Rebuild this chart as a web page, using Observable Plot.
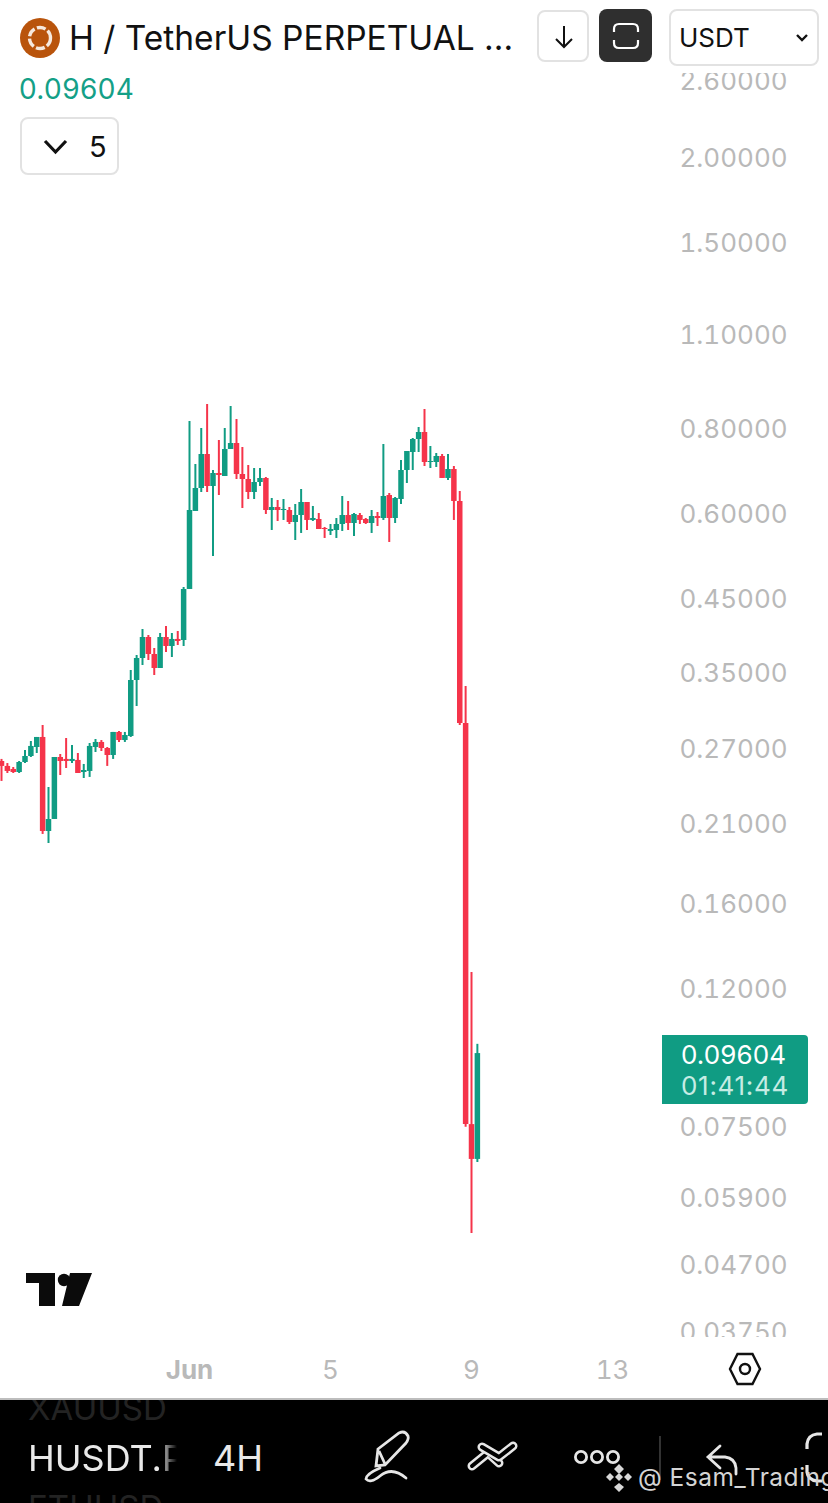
<!doctype html>
<html><head><meta charset="utf-8">
<script src="https://cdn.jsdelivr.net/npm/d3@7"></script>
<script src="https://cdn.jsdelivr.net/npm/@observablehq/plot@0.6"></script>
<style>
html,body{margin:0;padding:0;background:#fff}
#wrap{position:relative;width:828px;height:1503px;overflow:hidden;font-family:Inter,Roboto,sans-serif;background:#fff}
#wrap>*{position:absolute}
.box{box-sizing:border-box;border:2px solid #e2e2e2;border-radius:8px;background:#fff}
.t{white-space:nowrap;line-height:1}
</style></head><body>
<div id="wrap"></div>
<script>
const opens=[.2584,.2541,.2515,.2489,.2575,.2628,.2709,.2803,.2038,.2123,.2619,.2602,.2584,.2593,.2489,
.2498,.2709,.2756,.2700,.2637,.2851,.2774,.2812,.3400,.3663,.3933,.3713,.3541,.3933,.3815,
.3907,.3893,.4628,.6028,.6516,.7312,.6560,.6856,.6786,.7437,.7589,.6833,.6718,.6428,.6650,
.6741,.6048,.6110,.6048,.6048,.5807,.5946,.6214,.5847,.5866,.5690,.5633,.5652,.5768,.5946,
.5787,.5946,.5866,.5787,.5926,.5886,.6363,.5886,.6278,.6926,.7361,.7693,.7877,.7116,.7116,
.7262,.6741,.6949,.6235,.2939,.0755,.0671];
const highs=[.2602,.2566,.2532,.2584,.2682,.2765,.2803,.2919,.2366,.2619,.2646,.2793,.2728,.2655,.2558,
.2746,.2784,.2774,.2709,.2851,.2860,.2851,.3517,.3700,.4041,.3960,.3789,.3987,.4083,.3987,
.4014,.4659,.8177,.7068,.7985,.8661,.6926,.7667,.7985,.8603,.8232,.7487,.7044,.6973,.6973,
.6763,.6299,.6256,.6278,.6110,.6172,.6494,.6214,.6131,.5987,.5710,.5768,.5886,.6342,.6235,
.5987,.5987,.5886,.6048,.6007,.7564,.6407,.6320,.7164,.7386,.7719,.8012,.8516,.7513,.7336,
.7312,.7312,.7020,.6450,.3332,.1264,.0991];
const lows=[.2415,.2481,.2481,.2481,.2566,.2619,.2655,.2018,.1957,.2123,.2464,.2523,.2566,.2481,.2439,
.2448,.2664,.2673,.2541,.2602,.2756,.2756,.2803,.3113,.3577,.3638,.3458,.3541,.3738,.3675,
.3828,.3815,.4628,.6028,.6428,.6428,.5175,.6363,.6786,.7437,.6718,.6089,.6278,.6278,.6560,
.5967,.5652,.5827,.5847,.5768,.5463,.5595,.5652,.5827,.5671,.5501,.5557,.5501,.5633,.5652,
.5538,.5768,.5768,.5595,.5729,.5847,.5427,.5787,.6172,.6627,.6926,.7361,.7020,.6973,.6997,
.6741,.6695,.5847,.2919,.0748,.0522,.0664];
const closes=[.2541,.2498,.2489,.2575,.2628,.2719,.2803,.2038,.2123,.2619,.2584,.2584,.2602,.2481,.2506,
.2719,.2756,.2700,.2637,.2851,.2774,.2822,.3400,.3663,.3933,.3713,.3541,.3933,.3815,.3907,
.3880,.4628,.6048,.6516,.7312,.6560,.6856,.6809,.7437,.7589,.6833,.6718,.6428,.6650,.6741,
.6048,.6110,.6048,.6069,.5807,.5946,.6214,.5847,.5886,.5671,.5671,.5671,.5768,.5946,.5787,
.5967,.5847,.5787,.5926,.5886,.6342,.5886,.6299,.6926,.7386,.7693,.7877,.7116,.7140,.7262,
.6741,.6949,.6235,.2939,.0755,.0671,.09604];
const firstCandle=new Date(Date.UTC(2025,4,26,16));
const candleHours=4;
const priceTicks=[2.6,2,1.5,1.1,.8,.6,.45,.35,.27,.21,.16,.12,.075,.059,.047,.0375];
const dateTicks=[new Date(Date.UTC(2025,5,5)),new Date(Date.UTC(2025,5,9)),new Date(Date.UTC(2025,5,13))];
const monthTick=[new Date(Date.UTC(2025,5,1))];
const dateLabels=["5","9","13"];
const lastPrice="0.09604",countdown="01:41:44";

const candles=opens.map((o,i)=>({date:d3.utcHour.offset(firstCandle,i*candleHours),o,h:highs[i],l:lows[i],c:closes[i],dir:closes[i]>o?"up":"down"}));
const chartFont="Inter, Roboto, sans-serif", grey="#b9b9b9";
const chartTop=73;
const chart=Plot.plot({
  width:828,height:1326,marginLeft:0,marginRight:147,marginTop:0,marginBottom:41,
  style:{fontFamily:chartFont,overflow:"hidden",background:"transparent"},
  x:{type:"utc",domain:[monthTick[0],dateTicks[2]],range:[189,612]},
  y:{type:"log",domain:[2,.047],range:[157-chartTop,1264-chartTop]},
  color:{domain:["up","down"],range:["#109c83","#f5344a"]},
  marks:[
    Plot.ruleX(candles,{x:"date",y1:"l",y2:"h",stroke:"dir",strokeWidth:2}),
    Plot.ruleX(candles,{x:"date",y1:"o",y2:"c",stroke:"dir",strokeWidth:5.5}),
    Plot.axisY(priceTicks,{anchor:"right",tickSize:0,tickPadding:0,label:null,fontSize:26,fill:grey,dx:-2,dy:1.5,tickFormat:d=>d.toFixed(5)}),
    Plot.axisX(monthTick,{anchor:"bottom",tickSize:0,tickPadding:2,label:null,fontSize:26,fontWeight:"bold",fill:grey,tickFormat:()=>"Jun"}),
    Plot.axisX(dateTicks,{anchor:"bottom",tickSize:0,tickPadding:2,label:null,fontSize:26,fill:grey,tickFormat:(d,i)=>dateLabels[i]})
  ]
});
const wrap=document.getElementById("wrap");
chart.style.position="absolute";chart.style.left="0";chart.style.top=chartTop+"px";
wrap.appendChild(chart);
wrap.insertAdjacentHTML("beforeend",`
<div style="left:0;top:1337px;width:828px;height:14px;background:#fff"></div>

<svg style="left:20px;top:18px" width="40" height="40" viewBox="0 0 40 40">
  <circle cx="20" cy="20" r="20" fill="#b9540c"/>
  <circle cx="20" cy="20" r="10.5" fill="none" stroke="#f6e9de" stroke-width="3.4" stroke-dasharray="9 2.5"/>
</svg>
<div class="t" style="left:69px;top:22px;font-size:33.5px;color:#111;font-family:Inter,sans-serif">H / TetherUS PERPETUAL ...</div>
<div class="t" style="left:19px;top:75px;font-size:28px;color:#14a087;letter-spacing:.4px">${lastPrice}</div>

<div class="box" style="left:20px;top:117px;width:99px;height:58px"></div>
<svg style="left:42px;top:138px" width="28" height="18" viewBox="0 0 28 18"><path d="M3 3 L13.5 14 L24 3" fill="none" stroke="#111" stroke-width="3.2"/></svg>
<div class="t" style="left:89px;top:132px;font-size:29px;color:#111">5</div>

<div class="box" style="left:537px;top:10px;width:52px;height:52px"></div>
<svg style="left:553px;top:25px" width="22" height="24" viewBox="0 0 22 24"><path d="M11 1V22 M3 14 L11 22 L19 14" fill="none" stroke="#111" stroke-width="2"/></svg>
<div style="left:599px;top:9px;width:53px;height:53px;background:#2f2f2f;border-radius:8px"></div>
<svg style="left:612px;top:22px" width="28" height="28" viewBox="0 0 28 28"><path d="M2 10V7Q2 2 7 2H21Q26 2 26 7V10 M2 18V21Q2 26 7 26H21Q26 26 26 21V18" fill="none" stroke="#fff" stroke-width="2.2"/></svg>
<div class="box" style="left:669px;top:9px;width:150px;height:57px"></div>
<div class="t" style="left:679px;top:25px;font-size:26px;color:#111">USDT</div>
<svg style="left:795px;top:33px" width="14" height="10" viewBox="0 0 14 10"><path d="M2 2 L7 7 L12 2" fill="none" stroke="#111" stroke-width="2.4"/></svg>

<div style="left:662px;top:1035px;width:146px;height:69px;background:#109c83;border-radius:0 4px 4px 0"></div>
<div class="t" style="left:681px;top:1042px;font-size:26px;color:#fff;letter-spacing:.1px">${lastPrice}</div>
<div class="t" style="left:681px;top:1073px;font-size:26px;color:#c6ece4;letter-spacing:.7px">${countdown}</div>

<svg style="left:20px;top:1265px" width="80" height="50" viewBox="0 0 80 50">
  <path d="M6 8H35V41H19V18H6Z M50 8H72L59 41H42Z" fill="#0b0b0b"/>
  <circle cx="44" cy="15" r="6.2" fill="#0b0b0b"/>
</svg>

<svg style="left:728px;top:1350px" width="34" height="38" viewBox="0 0 34 38">
  <path d="M9.5 4H24.5L32 19L24.5 34H9.5L2 19Z" fill="none" stroke="#111" stroke-width="2.4"/>
  <circle cx="17" cy="19" r="5" fill="none" stroke="#111" stroke-width="2.4"/>
</svg>

<div style="left:0;top:1398px;width:828px;height:105px;background:#000;border-top:2px solid #bdbdbd;box-sizing:border-box;overflow:hidden">
  <div class="t" style="position:absolute;left:28px;top:-8px;width:147px;overflow:hidden;font-size:33px;color:#232323">XAUUSD</div>
  <div class="t" style="position:absolute;left:28px;top:40px;width:149px;overflow:hidden;font-size:36px;color:#e9e9e9;-webkit-mask-image:linear-gradient(90deg,#000 88%,transparent)">HUSDT.P</div>
  <div class="t" style="position:absolute;left:213px;top:40px;font-size:36px;color:#e9e9e9">4H</div>
  <div class="t" style="position:absolute;left:28px;top:91px;width:147px;overflow:hidden;font-size:33px;color:#232323">ETHUSD</div>
</div>
<svg style="left:0;top:1400px" width="828" height="103" viewBox="0 1400 828 103" fill="none" stroke="#e6e6e6" stroke-width="2.8">
  <path d="M378 1449L399 1433Q405 1430 408 1436Q409 1439 406 1443L385 1465L376 1466Z M379 1451L385 1464"/>
  <path d="M380 1468Q366 1474 366 1479Q370 1484 380 1476Q392 1466 406 1478" stroke-linecap="round"/>
  <g stroke-linecap="round" stroke-linejoin="round">
    <path d="M472 1466L488 1453L499 1463" stroke-width="9"/><path d="M472 1466L488 1453L499 1463" stroke="#000" stroke-width="4"/>
    <path d="M482 1447L499 1457L513 1446" stroke-width="9"/><path d="M482 1447L499 1457L513 1446" stroke="#000" stroke-width="4"/>
  </g>
  <circle cx="581" cy="1457" r="5.6"/><circle cx="597" cy="1457" r="5.6"/><circle cx="613" cy="1457" r="5.6"/>
  <path d="M660 1436V1480" stroke="#555" stroke-width="1.2"/>
  <path d="M720 1446L708 1457L720 1468 M708 1457H725Q735 1458 736 1468V1474" stroke-linecap="round"/>
  <path d="M822 1434H817Q808 1435 807 1444V1449 M807 1465V1472Q808 1480 817 1481H822" stroke-width="3.2"/>
</svg>
<svg style="left:604px;top:1463px" width="30" height="30" viewBox="0 0 30 30" fill="#d8d8d8">
  <path d="M15 1L20 6L15 11L10 6Z M6 10L10 14L6 18L2 14Z M24 10L28 14L24 18L20 14Z M15 10L19 14L15 18L11 14Z M15 20L20 24L15 29L10 24Z"/>
</svg>
<div class="t" style="left:638px;top:1465px;font-size:24.5px;color:#d4d4d4;letter-spacing:.5px">@ Esam_Trading</div>
`);
</script></body></html>
